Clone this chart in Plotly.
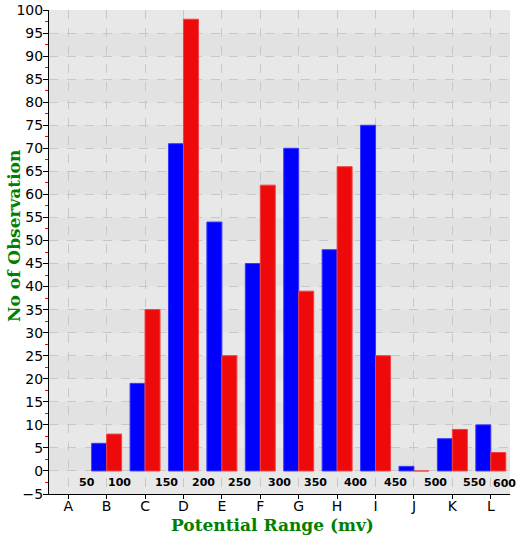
import plotly.graph_objects as go

# categories along the x axis and the two series
categories = ["A", "B", "C", "D", "E", "F", "G", "H", "I", "J", "K", "L"]
blue_counts = [None, 6, 19, 71, 54, 45, 70, 48, 75, 1, 7, 10]
red_counts = [None, 8, 35, 98, 25, 62, 39, 66, 25, 0, 9, 4]

# potential range labels drawn inside the plot, below zero
range_labels = ["50", "100", "150", "200", "250", "300",
                "350", "400", "450", "500", "550", "600"]

W, H = 519, 538
L, R, T, B = 49, 9, 10, 44

fig = go.Figure()
fig.add_trace(go.Bar(x=categories, y=blue_counts, name="blue",
                     marker=dict(color="#0000ff", line=dict(color="#3a3aff", width=1))))
fig.add_trace(go.Bar(x=categories, y=red_counts, name="red",
                     marker=dict(color="#ee0a0a", line=dict(color="#f24040", width=1))))

# alternating grey bands behind the grid
shapes = []
lo = -5
k = 0
while lo < 100:
    shapes.append(dict(type="rect", xref="paper", yref="y", x0=0, x1=1, y0=lo, y1=lo + 5,
                       fillcolor="#e8e8e8" if k % 2 == 0 else "#e2e2e2",
                       line=dict(width=0), layer="below"))
    lo += 5
    k += 1

# label positions sit roughly between categories
nudge = [0, -0.17, 0.07, 0.03, -0.04, 0, -0.06, -0.02, 0.03, 0.07, 0.07, -0.15]
annotations = []
for i, lab in enumerate(range_labels):
    annotations.append(dict(x=i + 0.5 + nudge[i], y=-2.8 if lab == "600" else -2.4,
                            xref="x", yref="y", text=lab, showarrow=False,
                            xanchor="center", yanchor="middle",
                            font=dict(family="DejaVu Sans", size=11, color="black", weight="bold")))


def px_to_paper(px, py):
    return (px - L) / (W - L - R), (H - B - py) / (H - T - B)


title_font = dict(family="DejaVu Serif", size=17, color="#008000", weight="bold")
tx, ty = px_to_paper(272, 525)
annotations.append(dict(x=tx, y=ty, xref="paper", yref="paper", text="Potential Range (mv)",
                        xanchor="center", yanchor="middle", showarrow=False, font=title_font))
tx, ty = px_to_paper(14, 236)
annotations.append(dict(x=tx, y=ty, xref="paper", yref="paper", text="No of Observation",
                        xanchor="center", yanchor="middle", textangle=-90,
                        showarrow=False, font=title_font))

fig.update_layout(
    width=W, height=H,
    margin=dict(l=L, r=R, t=T, b=B),
    paper_bgcolor="white", plot_bgcolor="#e8e8e8",
    barmode="group", bargap=0.22, bargroupgap=0,
    showlegend=False,
    shapes=shapes, annotations=annotations,
    font=dict(family="DejaVu Sans", size=14, color="black"),
)
fig.update_xaxes(
    type="category", range=[-0.5, 11.5], automargin=False,
    showline=True, linecolor="black", linewidth=1,
    ticks="outside", ticklen=4, tickcolor="black", ticklabelstandoff=-5,
    showgrid=True, gridcolor="#c8c8c8", griddash="dash", gridwidth=1,
    tickfont=dict(family="DejaVu Sans", size=14),
)
fig.update_yaxes(
    range=[-5, 100], dtick=5, tick0=0, automargin=False,
    showline=True, linecolor="black", linewidth=1,
    ticks="outside", ticklen=5, tickcolor="black", ticklabelstandoff=-3,
    showgrid=True, gridcolor="#c8c8c8", griddash="dash", gridwidth=1,
    zeroline=False,
    minor=dict(dtick=2.5, tick0=2.5, ticks="outside", ticklen=3, tickcolor="red", showgrid=False),
    tickfont=dict(family="DejaVu Sans", size=14),
)

# the page's default body margin would shift the chart by 8px
fig.write_html("out.html", config={"displayModeBar": False},
               post_script="document.body.style.margin='0';")
